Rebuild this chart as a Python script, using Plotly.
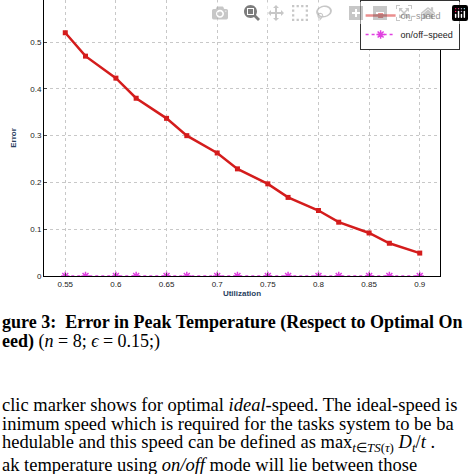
import plotly.graph_objects as go

utilization = [0.55, 0.57, 0.6, 0.62, 0.65, 0.67, 0.7, 0.72, 0.75, 0.77, 0.8, 0.82, 0.85, 0.87, 0.9]
on_speed = [0.52, 0.47, 0.423, 0.38, 0.337, 0.30, 0.263, 0.229, 0.197, 0.168, 0.14, 0.115, 0.092, 0.07, 0.049]
onoff_speed = [0.0] * 15
x_ticks = [0.55, 0.6, 0.65, 0.7, 0.75, 0.8, 0.85, 0.9]
y_ticks = [0, 0.1, 0.2, 0.3, 0.4, 0.5]

fig = go.Figure()
fig.add_trace(go.Scatter(x=utilization, y=on_speed, name="on\u2212speed", mode="lines+markers",
                         line=dict(color="#d41c1c", width=2.5),
                         marker=dict(symbol="square", size=5, color="#d41c1c")))
fig.add_trace(go.Scatter(x=utilization, y=onoff_speed, name="on/off\u2212speed", mode="lines+markers",
                         line=dict(color="#e040e0", width=1.5, dash="dot"),
                         marker=dict(symbol="asterisk-open", size=7, color="#e040e0", line=dict(color="#e040e0", width=1.5))))

axcommon = dict(showline=True, linecolor="black", linewidth=1, mirror=True, ticks="inside", ticklen=3,
                showgrid=True, gridcolor="#c8c8c8", griddash="dot", gridwidth=1, zeroline=False,
                tickfont=dict(family="Liberation Sans", size=8, color="#222"))
fig.update_xaxes(range=[0.529, 0.92], tickvals=x_ticks, ticktext=[str(v) for v in x_ticks],
                 title=dict(text="<b>Utilization</b>", font=dict(family="Liberation Sans", size=8), standoff=2), **axcommon)
fig.update_yaxes(range=[0, 0.59], tickvals=y_ticks, ticktext=[str(v) for v in y_ticks],
                 title=dict(text="<b>Error</b>", font=dict(family="Liberation Sans", size=8), standoff=12), **axcommon)

fig.update_layout(width=474, height=474, margin=dict(l=44, r=34, t=0, b=198),
                  paper_bgcolor="white", plot_bgcolor="white", showlegend=True,
                  legend=dict(x=0.797, y=1.0, xanchor="left", yanchor="top", bgcolor="white",
                              bordercolor="#333", borderwidth=1, font=dict(family="Liberation Sans", size=9, color="#222"),
                              tracegroupgap=0, itemwidth=30))

def px2paper(px, py):
    return (px - 44) / 396, (276 - py) / 276

lines = [
    (0, 322, "<b>gure 3:  Error in Peak Temperature (Respect to Optimal On</b>", 18),
    (0, 341, "<b>eed)</b> (<i>n</i> = 8; <i>ϵ</i> = 0.15;)", 18),
    (0, 405, "clic marker shows for optimal <i>ideal</i>-speed. The ideal-speed is", 18.5),
    (0, 424, "inimum speed which is required for the tasks system to be ba", 18.5),
    (0, 443, "hedulable and this speed can be defined as max<sub><i>t</i>∈<i>TS</i>(<i>τ</i>)</sub> <i>D<sub>t</sub></i>/<i>t</i> .", 18.5),
    (0, 465, "ak temperature using <i>on/off</i> mode will lie between those", 18.5),
]
for px, py, txt, sz in lines:
    xp, yp = px2paper(px, py)
    fig.add_annotation(x=xp, y=yp, xref="paper", yref="paper", text=txt, showarrow=False,
                       xanchor="left", yanchor="middle",
                       font=dict(family="Liberation Serif", size=sz, color="black"))

fig.write_html("out.html")
with open("out.html", encoding="utf-8") as f:
    html = f.read()
html = html.replace("<head>", "<head><style>html,body{margin:0;padding:0;overflow:hidden;}</style>", 1)
with open("out.html", "w", encoding="utf-8") as f:
    f.write(html)
